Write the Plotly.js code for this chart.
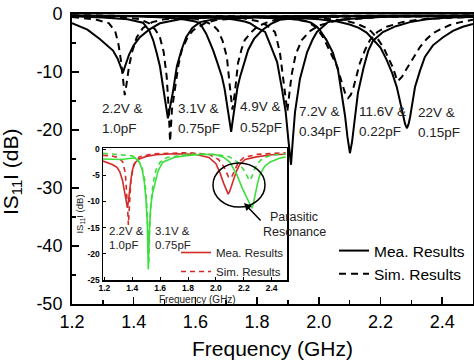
<!DOCTYPE html>
<html><head><meta charset="utf-8">
<script src="https://cdn.plot.ly/plotly-3.0.1.min.js"></script>
<style>html,body{margin:0;padding:0;background:#fff}</style>
</head><body>
<div id="chart" style="width:474px;height:362px"></div>
<script>
// ---------- Main plot data (frequency in GHz, |S11| in dB) ----------
const mea22_f = [1.20,1.25,1.29,1.315,1.333,1.348,1.358,1.365,1.372,1.385,1.40,1.42,1.45,1.485,1.55,1.65,1.80,2.0,2.25,2.5];
const mea22_db = [-1.6,-2.7,-4.3,-5.4,-6.3,-7.7,-9.0,-10.1,-9.0,-7.0,-5.4,-4.0,-2.7,-1.6,-0.9,-0.6,-0.45,-0.35,-0.3,-0.3];
const sim22_f = [1.20,1.28,1.32,1.34,1.35,1.36,1.366,1.371,1.377,1.385,1.395,1.41,1.43,1.46,1.5,1.6,1.8,2.1,2.5];
const sim22_db = [-0.5,-1.0,-1.6,-3.0,-5.0,-8.5,-11.5,-14.0,-12.0,-9.0,-6.5,-4.0,-2.4,-1.4,-0.9,-0.6,-0.4,-0.3,-0.3];

const mea31_f = [1.20,1.30,1.38,1.43,1.45,1.463,1.475,1.485,1.495,1.503,1.511,1.518,1.527,1.54,1.555,1.57,1.59,1.615,1.67,1.75,1.9,2.2,2.5];
const mea31_db = [-0.4,-0.6,-0.9,-1.5,-2.8,-4.5,-6.8,-9.0,-12.5,-15.5,-18.0,-16.0,-13.5,-9.0,-6.2,-4.0,-2.4,-1.4,-0.8,-0.6,-0.4,-0.3,-0.3];
const sim31_f = [1.20,1.35,1.42,1.45,1.47,1.485,1.497,1.507,1.513,1.518,1.524,1.535,1.545,1.556,1.575,1.593,1.63,1.67,1.8,2.1,2.5];
const sim31_db = [-0.3,-0.5,-0.9,-1.6,-2.7,-4.0,-6.5,-10.8,-16.0,-22.0,-16.5,-12.0,-8.8,-6.2,-4.0,-2.8,-1.6,-1.0,-0.6,-0.4,-0.3];

const mea49_f = [1.20,1.40,1.50,1.56,1.60,1.615,1.635,1.657,1.672,1.686,1.695,1.702,1.71,1.716,1.722,1.728,1.736,1.745,1.758,1.771,1.79,1.816,1.845,1.874,1.95,2.1,2.3,2.5];
const mea49_db = [-0.3,-0.4,-0.6,-0.9,-1.3,-1.6,-3.4,-6.2,-8.5,-10.8,-13.0,-15.4,-18.3,-20.3,-18.0,-15.4,-12.8,-10.8,-8.3,-6.2,-4.3,-2.8,-1.7,-1.0,-0.6,-0.4,-0.3,-0.3];
const sim49_f = [1.20,1.50,1.60,1.64,1.66,1.673,1.688,1.702,1.712,1.72,1.728,1.738,1.75,1.76,1.78,1.80,1.83,1.86,1.95,2.2,2.5];
const sim49_db = [-0.3,-0.4,-0.8,-1.5,-2.1,-2.8,-4.6,-7.4,-12.6,-16.5,-13.6,-8.5,-6.0,-4.5,-3.2,-2.2,-1.5,-1.0,-0.6,-0.4,-0.3];

const mea72_f = [1.20,1.50,1.65,1.72,1.76,1.777,1.80,1.826,1.842,1.865,1.881,1.893,1.902,1.91,1.916,1.923,1.939,1.962,1.98,1.994,2.03,2.08,2.2,2.35,2.5];
const mea72_db = [-0.3,-0.4,-0.6,-0.9,-1.3,-1.6,-2.4,-3.1,-5.2,-8.3,-13.0,-17.0,-22.0,-26.0,-21.6,-16.9,-11.2,-6.6,-4.4,-3.1,-1.4,-0.9,-0.5,-0.35,-0.3];
const sim72_f = [1.20,1.60,1.75,1.80,1.83,1.858,1.874,1.884,1.892,1.898,1.904,1.912,1.925,1.945,1.97,2.0,2.06,2.2,2.5];
const sim72_db = [-0.3,-0.4,-0.7,-1.2,-1.9,-3.1,-6.6,-11.2,-14.5,-16.8,-14.0,-10.5,-7.0,-4.5,-3.0,-2.0,-1.1,-0.5,-0.3];

const mea116_f = [1.20,1.60,1.80,1.90,1.95,1.975,1.994,2.004,2.025,2.046,2.062,2.075,2.085,2.093,2.101,2.108,2.115,2.127,2.145,2.16,2.176,2.208,2.25,2.296,2.35,2.42,2.5];
const mea116_db = [-0.3,-0.4,-0.6,-0.8,-1.1,-1.5,-2.2,-2.8,-4.5,-6.7,-9.5,-13.6,-17.5,-21.2,-24.0,-22.0,-18.5,-13.6,-9.3,-6.4,-4.6,-3.1,-2.1,-1.4,-0.9,-0.6,-0.5];
const sim116_f = [1.20,1.70,1.90,1.96,1.99,2.014,2.035,2.059,2.073,2.085,2.095,2.103,2.111,2.122,2.133,2.15,2.166,2.19,2.22,2.27,2.35,2.5];
const sim116_db = [-0.3,-0.4,-0.7,-1.3,-2.2,-4.0,-6.3,-9.0,-11.5,-13.6,-14.5,-14.0,-13.0,-10.5,-8.5,-6.2,-4.5,-3.1,-2.2,-1.4,-0.8,-0.5];

const mea22v_f = [1.20,1.70,1.90,2.00,2.06,2.10,2.13,2.155,2.176,2.20,2.22,2.238,2.253,2.265,2.273,2.28,2.286,2.291,2.296,2.304,2.312,2.328,2.344,2.37,2.403,2.435,2.467,2.5];
const mea22v_db = [-0.3,-0.4,-0.6,-0.9,-1.3,-1.8,-2.4,-3.2,-4.4,-5.8,-7.9,-10.2,-12.6,-15.5,-17.8,-19.0,-19.7,-19.0,-17.8,-15.0,-12.6,-9.8,-7.4,-5.4,-4.0,-2.9,-2.2,-1.7];
const sim22v_f = [1.20,1.80,2.00,2.08,2.12,2.15,2.17,2.19,2.21,2.225,2.24,2.25,2.256,2.263,2.27,2.283,2.296,2.312,2.328,2.35,2.37,2.4,2.425,2.46,2.5];
const sim22v_db = [-0.3,-0.4,-0.7,-1.1,-1.6,-2.3,-3.0,-4.2,-5.8,-7.4,-9.2,-10.8,-11.6,-11.2,-10.8,-9.6,-8.5,-7.0,-5.7,-4.3,-3.3,-2.5,-1.9,-1.4,-1.0];

// ---------- Inset data ----------
const insMea22_f = [1.19,1.22,1.26,1.29,1.31,1.33,1.345,1.357,1.365,1.372,1.38,1.392,1.403,1.42,1.45,1.5,1.57,1.7,1.85,1.95,2.0,2.03,2.055,2.077,2.088,2.1,2.12,2.145,2.17,2.21,2.29,2.4,2.5];
const insMea22_db = [-2.3,-2.6,-3.0,-3.5,-4.3,-6.0,-8.0,-10.0,-11.2,-10.0,-8.0,-5.5,-3.8,-2.6,-1.9,-1.4,-1.1,-0.9,-1.0,-1.6,-2.8,-4.6,-6.5,-8.0,-8.6,-8.0,-6.2,-4.4,-3.0,-2.0,-1.5,-1.1,-1.0];
const insSim22_f = [1.19,1.25,1.30,1.33,1.35,1.36,1.367,1.372,1.378,1.39,1.41,1.45,1.55,1.8,1.95,2.02,2.06,2.09,2.11,2.13,2.16,2.2,2.3,2.5];
const insSim22_db = [-1.2,-1.3,-1.6,-2.4,-4.5,-8.0,-11.5,-14.5,-11.0,-6.0,-3.0,-1.5,-0.9,-0.7,-1.0,-2.0,-3.5,-5.3,-5.5,-4.4,-2.6,-1.6,-1.0,-0.7];
const insMea31_f = [1.19,1.25,1.32,1.38,1.42,1.45,1.47,1.486,1.498,1.508,1.515,1.522,1.532,1.545,1.56,1.585,1.618,1.7,1.77,1.9,2.0,2.05,2.1,2.15,2.19,2.225,2.245,2.258,2.27,2.28,2.3,2.315,2.35,2.387,2.45,2.5];
const insMea31_db = [-1.9,-2.0,-2.0,-1.8,-1.7,-2.5,-3.8,-6.2,-9.5,-14.4,-23.0,-16.0,-11.0,-8.5,-6.8,-4.2,-2.5,-1.6,-1.3,-1.0,-1.1,-1.5,-2.5,-4.9,-7.5,-9.6,-10.8,-11.3,-10.2,-8.7,-6.4,-4.9,-3.3,-2.5,-1.8,-1.5];
const insSim31_f = [1.19,1.3,1.4,1.44,1.47,1.49,1.503,1.512,1.518,1.525,1.535,1.55,1.57,1.6,1.65,1.8,2.0,2.1,2.16,2.2,2.225,2.24,2.255,2.275,2.3,2.34,2.4,2.5];
const insSim31_db = [-0.8,-1.0,-1.3,-2.0,-3.5,-6.0,-10.0,-15.0,-22.0,-15.0,-10.0,-6.5,-4.0,-2.5,-1.6,-1.0,-1.0,-1.5,-2.6,-4.0,-5.3,-6.0,-5.5,-4.0,-2.7,-1.7,-1.2,-0.9];

// ---------- Labels ----------
const xTickVals = [1.2,1.4,1.6,1.8,2.0,2.2,2.4];
const xTickText = ['1.2','1.4','1.6','1.8','2.0','2.2','2.4'];
const xMinorVals = [1.3,1.5,1.7,1.9,2.1,2.3];
const yTickVals = [0,-10,-20,-30,-40,-50];
const yTickText = ['0','-10','-20','-30','-40','-50'];
const yMinorVals = [-5,-15,-25,-35,-45];
const insYTickVals = [0,-5,-10,-15,-20,-25];
const insYTickText = ['0','-5','-10','-15','-20','-25'];
const mainLabels = [['2.2V &','1.0pF'],['3.1V &','0.75pF'],['4.9V &','0.52pF'],['7.2V &','0.34pF'],['11.6V &','0.22pF'],['22V &','0.15pF']];
const insetLabels = [['2.2V &','1.0pF'],['3.1V &','0.75pF']];
const legendNames = ['Mea. Results','Sim. Results'];

// ---------- Build ----------
const FONT = 'Arial, "Liberation Sans", sans-serif';
const L = 72, R = 473, T = 14, B = 304;
const pxX = p => (p - L) / (R - L);
const pxY = p => (B - p) / (B - T);

const meaCurves = [[mea22_f,mea22_db],[mea31_f,mea31_db],[mea49_f,mea49_db],[mea72_f,mea72_db],[mea116_f,mea116_db],[mea22v_f,mea22v_db]];
const simCurves = [[sim22_f,sim22_db],[sim31_f,sim31_db],[sim49_f,sim49_db],[sim72_f,sim72_db],[sim116_f,sim116_db],[sim22v_f,sim22v_db]];

const traces = [];
meaCurves.forEach((c,i) => traces.push({x:c[0], y:c[1], mode:'lines', xaxis:'x', yaxis:'y',
  line:{color:'#000', width:2}, name:legendNames[0], legend:'legend', legendgroup:'mea', showlegend:i===0}));
simCurves.forEach((c,i) => traces.push({x:c[0], y:c[1], mode:'lines', xaxis:'x', yaxis:'y',
  line:{color:'#000', width:2, dash:'7px,5px'}, name:legendNames[1], legend:'legend', legendgroup:'sim', showlegend:i===0}));

const RED = '#d42a2a', GREEN = '#3ede3e';
traces.push({x:insMea22_f, y:insMea22_db, mode:'lines', xaxis:'x2', yaxis:'y2', line:{color:RED, width:1.6}, name:legendNames[0], legend:'legend2', showlegend:true});
traces.push({x:insSim22_f, y:insSim22_db, mode:'lines', xaxis:'x2', yaxis:'y2', line:{color:RED, width:1.6, dash:'5px,4px'}, name:legendNames[1], legend:'legend2', showlegend:true});
traces.push({x:insMea31_f, y:insMea31_db, mode:'lines', xaxis:'x2', yaxis:'y2', line:{color:GREEN, width:1.6}, showlegend:false});
traces.push({x:insSim31_f, y:insSim31_db, mode:'lines', xaxis:'x2', yaxis:'y2', line:{color:GREEN, width:1.6, dash:'5px,4px'}, showlegend:false});

const annotations = [];
const mainLabelPos = [[100,108],[176,108],[238,107],[297,111],[357,111],[416,112]];
mainLabels.forEach((lab,i) => {
  lab.forEach((t,j) => annotations.push({text:t, xref:'paper', yref:'paper', x:pxX(mainLabelPos[i][0]), y:pxY(mainLabelPos[i][1] + 20*j),
    xanchor:'left', yanchor:'middle', showarrow:false, font:{family:FONT, size:13.5, color:'#222'}}));
});
const insetLabelPos = [[107,231],[153,231]];
insetLabels.forEach((lab,i) => {
  lab.forEach((t,j) => annotations.push({text:t, xref:'paper', yref:'paper', x:pxX(insetLabelPos[i][0]), y:pxY(insetLabelPos[i][1] + 14*j),
    xanchor:'left', yanchor:'middle', showarrow:false, font:{family:FONT, size:11.5, color:'#222'}}));
});
annotations.push({text:'Parasitic', xref:'paper', yref:'paper', x:pxX(294), y:pxY(217), xanchor:'center', yanchor:'middle', showarrow:false, font:{family:FONT, size:12.5, color:'#222'}});
annotations.push({text:'Resonance', xref:'paper', yref:'paper', x:pxX(294), y:pxY(232), xanchor:'center', yanchor:'middle', showarrow:false, font:{family:FONT, size:12.5, color:'#222'}});
annotations.push({text:'', xref:'paper', yref:'paper', x:pxX(244), y:pxY(203), ax:18, ay:19, showarrow:true, arrowhead:2, arrowsize:1, arrowwidth:1.5, arrowcolor:'#000'});
annotations.push({text:'IS<sub>11</sub>I (dB)', xref:'paper', yref:'paper', x:pxX(12), y:pxY(172), xanchor:'center', yanchor:'middle', textangle:-90, showarrow:false, font:{family:FONT, size:21, color:'#000'}});
annotations.push({text:'Frequency (GHz)', xref:'paper', yref:'paper', x:pxX(197), y:pxY(299.5), xanchor:'center', yanchor:'middle', showarrow:false, font:{family:FONT, size:10, color:'#222'}});

const shapes = [{type:'circle', xref:'paper', yref:'paper', x0:pxX(213), x1:pxX(265), y0:pxY(207), y1:pxY(163), line:{color:'#000', width:1.5}}];

const layout = {
  width:474, height:362, margin:{l:L, r:474-R, t:T, b:362-B},
  paper_bgcolor:'#fff', plot_bgcolor:'#fff', font:{family:FONT, color:'#000'},
  showlegend:true,
  xaxis:{range:[1.2,2.5], tickmode:'array', tickvals:xTickVals, ticktext:xTickText, ticks:'inside', ticklen:7, tickwidth:1.5, tickcolor:'#000',
    minor:{tickmode:'array', tickvals:xMinorVals, ticks:'inside', ticklen:4, tickwidth:1.5, tickcolor:'#000'},
    showline:true, linewidth:2, linecolor:'#000', mirror:true, showgrid:false, zeroline:false,
    tickfont:{family:FONT, size:18, color:'#000'},
    title:{text:'Frequency (GHz)', font:{family:FONT, size:21, color:'#000'}, standoff:11}},
  yaxis:{range:[-50,0], tickmode:'array', tickvals:yTickVals, ticktext:yTickText, ticks:'inside', ticklen:7, tickwidth:1.5, tickcolor:'#000',
    minor:{tickmode:'array', tickvals:yMinorVals, ticks:'inside', ticklen:4, tickwidth:1.5, tickcolor:'#000'},
    showline:true, linewidth:2, linecolor:'#000', mirror:true, showgrid:false, zeroline:false,
    tickfont:{family:FONT, size:18, color:'#000'}, ticklabelstandoff:4},
  xaxis2:{domain:[pxX(103), pxX(287)], anchor:'y2', range:[1.19,2.51], tickmode:'array', tickvals:xTickVals, ticktext:xTickText,
    ticks:'inside', ticklen:3, tickwidth:1, tickcolor:'#000', showline:true, linewidth:1.5, linecolor:'#000', mirror:true,
    showgrid:false, zeroline:false, tickfont:{family:FONT, size:8.5, color:'#000', weight:'bold'}, ticklabelstandoff:-1},
  yaxis2:{domain:[pxY(280), pxY(148)], anchor:'x2', range:[-25,0.2], tickmode:'array', tickvals:insYTickVals, ticktext:insYTickText,
    ticks:'inside', ticklen:3, tickwidth:1, tickcolor:'#000', showline:true, linewidth:1.5, linecolor:'#000', mirror:true,
    showgrid:false, zeroline:false, tickfont:{family:FONT, size:8.5, color:'#000', weight:'bold'},
    title:{text:'IS<sub>11</sub>I (dB)', font:{family:FONT, size:9.5, color:'#222'}, standoff:2}},
  legend:{x:pxX(334), y:pxY(234), xanchor:'left', yanchor:'top', bgcolor:'rgba(0,0,0,0)', borderwidth:0,
    font:{family:FONT, size:15.5, color:'#000'}, tracegroupgap:0, itemwidth:30},
  legend2:{x:pxX(176), y:pxY(238), xanchor:'left', yanchor:'top', bgcolor:'rgba(0,0,0,0)', borderwidth:0,
    font:{family:FONT, size:11.5, color:'#222'}, tracegroupgap:0, itemwidth:30},
  annotations:annotations, shapes:shapes
};

Plotly.newPlot('chart', traces, layout, {staticPlot:true, displayModeBar:false});
</script>
</body></html>
